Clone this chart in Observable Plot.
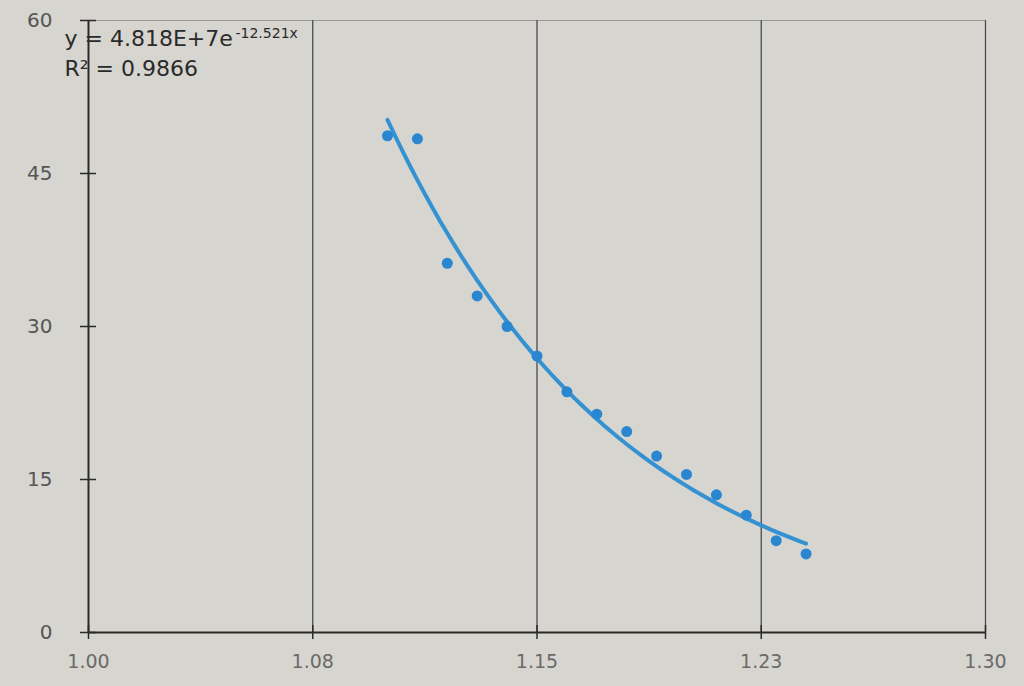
<!DOCTYPE html>
<html>
<head>
<meta charset="utf-8">
<script src="https://cdn.jsdelivr.net/npm/d3@7"></script>
<script src="https://cdn.jsdelivr.net/npm/@observablehq/plot@0.6"></script>
<style>
  html, body { margin: 0; padding: 0; background: #d7d5cf; }
  #chart { width: 1024px; height: 686px; overflow: hidden; }
</style>
</head>
<body>
<div id="chart"></div>
<script>
// Observed points
const xValues = [1.10, 1.11, 1.12, 1.13, 1.14, 1.15, 1.16, 1.17, 1.18, 1.19, 1.20, 1.21, 1.22, 1.23, 1.24];
const yValues = [48.7, 48.4, 36.2, 33.0, 30.0, 27.1, 23.6, 21.4, 19.7, 17.3, 15.5, 13.5, 11.5, 9.0, 7.7];

// Axis ticks and labels
const xTicks = [1.00, 1.075, 1.15, 1.225, 1.30];
const xTickLabels = ["1.00", "1.08", "1.15", "1.23", "1.30"];
const yTicks = [0, 15, 30, 45, 60];
const yTickLabels = ["0", "15", "30", "45", "60"];

// Exponential trendline as stated on the chart: y = a * e^(b x)
const trendA = 4.818e7;
const trendB = -12.521;
const trendRange = [1.10, 1.24];
const equationText = "y = 4.818E+7e";
const equationExponent = "-12.521x";
const r2Text = "R² = 0.9866";

const points = xValues.map((x, i) => ({x, y: yValues[i]}));
const trend = d3.range(trendRange[0], trendRange[1] + 1e-9, 0.0025)
  .map(x => ({x, y: trendA * Math.exp(trendB * x)}));

const W = 1024, H = 686;
const mL = 88, mR = 39, mT = 20, mB = 54;
const plotW = W - mL - mR, plotH = H - mT - mB;

const chart = Plot.plot({
  width: W,
  height: H,
  marginLeft: mL,
  marginRight: mR,
  marginTop: mT,
  marginBottom: mB,
  style: {background: "#d7d5cf", fontFamily: "'DejaVu Sans', sans-serif", overflow: "visible"},
  x: {domain: [1.00, 1.30], axis: null},
  y: {domain: [0, 60], axis: null},
  marks: [
    // top border and vertical gridlines
    Plot.ruleY([60], {x1: 1.00, x2: 1.30, stroke: "#9a9a9a", strokeWidth: 1.2}),
    Plot.ruleX(xTicks.slice(1), {x: d => d, y1: 0, y2: 60, stroke: "#4a4a55", strokeWidth: 1.3}),
    // axis lines
    Plot.ruleX([1.00], {y1: 0, y2: 60, stroke: "#2a2a2a", strokeWidth: 2}),
    Plot.ruleY([0], {x1: 1.00, x2: 1.30, stroke: "#2a2a2a", strokeWidth: 2}),
    // crossing tick marks
    Plot.ruleX(xTicks, {x: d => d, insetTop: plotH - 7, insetBottom: -7, stroke: "#2a2a2a", strokeWidth: 1.5}),
    Plot.ruleY(yTicks, {y: d => d, insetLeft: -8, insetRight: plotW - 8, stroke: "#2a2a2a", strokeWidth: 1.5}),
    // axis labels
    Plot.axisX({ticks: xTicks, tickFormat: d => xTickLabels[xTicks.indexOf(d)], tickSize: 0, tickPadding: 22, fontSize: 19, color: "#6a6a6a", label: null}),
    Plot.axisY({ticks: yTicks, tickFormat: d => yTickLabels[yTicks.indexOf(d)], tickSize: 0, tickPadding: 36, fontSize: 20, color: "#555", label: null}),
    // trendline and points
    Plot.line(trend, {x: "x", y: "y", stroke: "#3592d2", strokeWidth: 4, curve: "linear"}),
    Plot.dot(points, {x: "x", y: "y", r: 5.5, fill: "#2a86d0", stroke: "none"}),
    // equation annotation
    Plot.text([equationText], {text: d => d, frameAnchor: "top-left", textAnchor: "start", lineAnchor: "bottom", dx: -24, dy: 25, fontSize: 22, fill: "#2a2a2a"}),
    Plot.text([equationExponent], {text: d => d, frameAnchor: "top-left", textAnchor: "start", lineAnchor: "bottom", dx: 147, dy: 17, fontSize: 14, fill: "#2a2a2a"}),
    Plot.text([r2Text], {text: d => d, frameAnchor: "top-left", textAnchor: "start", lineAnchor: "bottom", dx: -24, dy: 55, fontSize: 22, fill: "#2a2a2a"})
  ]
});
document.getElementById("chart").append(chart);
</script>
</body>
</html>
